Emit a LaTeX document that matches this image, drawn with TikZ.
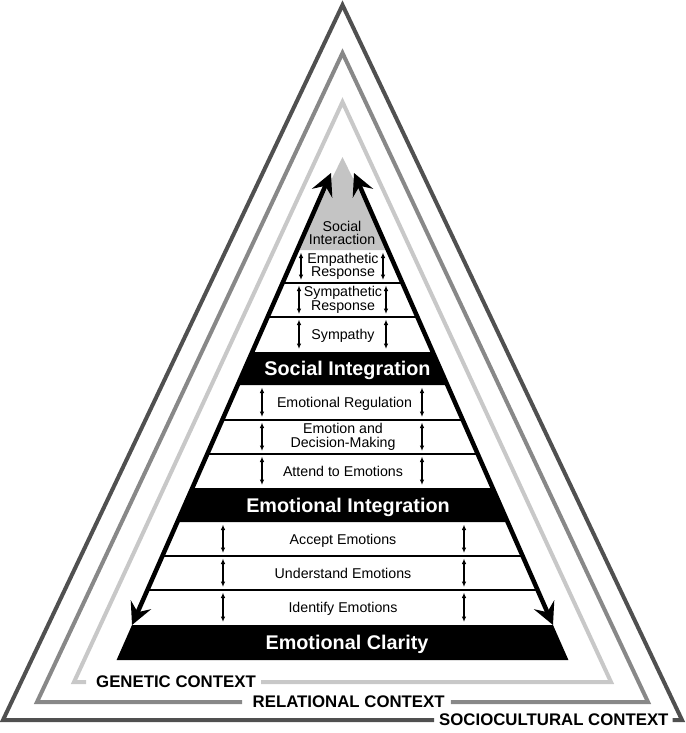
\documentclass[tikz,border=0pt]{standalone}
\usepackage{fontspec}
\setmainfont{Liberation Sans}
\usetikzlibrary{arrows.meta}
\definecolor{ctxdark}{HTML}{505050}
\definecolor{ctxmid}{HTML}{888888}
\definecolor{ctxlight}{HTML}{C8C8C8}
\definecolor{apexgray}{HTML}{C4C4C4}
\tikzset{
  ctxline/.style={line width=4pt, line join=miter},
  bandfill/.style={fill=black},
  bandtext/.style={text=white, font=\fontsize{19.8}{20}\selectfont\bfseries, inner sep=0pt, text height=14.2pt, text depth=0pt},
  rowtext/.style={font=\fontsize{14.2}{14}\selectfont, inner sep=0pt, text height=10.2pt, text depth=0pt},
  rowtwo/.style={font=\fontsize{14.2}{13.6}\selectfont, inner sep=0pt, align=center},
  ctxtext/.style={font=\fontsize{16.8}{17}\selectfont\bfseries, inner sep=0pt, anchor=west},
  sepline/.style={line width=1.6pt},
  bigarrow/.style={line width=4.5pt, {Stealth[length=22pt,width=22pt,inset=8pt]}-{Stealth[length=22pt,width=22pt,inset=8pt]}},
  smallarrow/.style={line width=1.1pt, {Latex[length=5.5pt,width=4.5pt]}-{Latex[length=5.5pt,width=4.5pt]}}
}
\begin{document}
\begin{tikzpicture}[x=1pt,y=-1pt]
\useasboundingbox (0,0) rectangle (685,733);
\fill[white] (0,0) rectangle (685,733);

% context triangles
\coordinate (sTop) at (342.5,5);
\coordinate (sBL) at (3,720);
\coordinate (sBR) at (682,720);
\coordinate (rTop) at (342.5,53);
\coordinate (rBL) at (37,702);
\coordinate (rBR) at (648,702);
\coordinate (gTop) at (342.5,102);
\coordinate (gBL) at (74,682);
\coordinate (gBR) at (611,682);

\node[ctxtext] (gen) at (96,682) {GENETIC CONTEXT};
\node[ctxtext] (rel) at (252.5,702) {RELATIONAL CONTEXT};
\node[ctxtext] (soc) at (439,720) {SOCIOCULTURAL CONTEXT};

\draw[ctxline, ctxlight] ([xshift=-10pt]gen.west) -- (gBL) -- (gTop) -- (gBR) -- ([xshift=5pt]gen.east);
\draw[ctxline, ctxmid] ([xshift=-10.5pt]rel.west) -- (rBL) -- (rTop) -- (rBR) -- ([xshift=6pt]rel.east);
\draw[ctxline, ctxdark] ([xshift=-5pt]soc.west) -- (sBL) -- (sTop) -- (sBR) -- ([xshift=4pt]soc.east);

% apex gray
\fill[apexgray] (342.5,157) -- (297.11,250) -- (387.89,250) -- cycle;

% black bands
\fill[bandfill] (116.59,660) -- (568.41,660) -- (553,625) -- (132,625) -- cycle;
\fill[bandfill] (177.35,522) -- (507.65,522) -- (492.68,488) -- (192.32,488) -- cycle;
\fill[bandfill] (237.67,385) -- (447.33,385) -- (432.80,352) -- (252.20,352) -- cycle;

% separators
\foreach \y [count=\i] in {283,317,420,454,556,590} {
  \coordinate (sep\i l) at ({132+0.4403*(625-\y)},\y);
  \coordinate (sep\i r) at ({553-0.4403*(625-\y)},\y);
  \draw[sepline] (sep\i l) -- (sep\i r);
}

% big arrows
\coordinate (tipTL) at (331,173);
\coordinate (tipBL) at (132,625);
\coordinate (tipTR) at (354,173);
\coordinate (tipBR) at (553,625);
\draw[bigarrow] (tipTL) -- (tipBL);
\draw[bigarrow] (tipTR) -- (tipBR);

% small double arrows
\foreach \t/\b/\xl/\xr [count=\i] in {250/283/301/383, 283/317/299/386, 317/352/299/386,
   385/420/262/422, 420/454/262/422, 454/488/262/422,
   522/556/223/464, 556/590/223/464, 590/625/223/464} {
  \coordinate (a\i lt) at (\xl,\t+2.5);
  \coordinate (a\i lb) at (\xl,\b-3);
  \coordinate (a\i rt) at (\xr,\t+2.5);
  \coordinate (a\i rb) at (\xr,\b-3);
  \draw[smallarrow] (a\i lt) -- (a\i lb);
  \draw[smallarrow] (a\i rt) -- (a\i rb);
}

% labels
\node[rowtwo] (si) at (342,233) {Social\\Interaction};
\node[rowtwo] (er) at (343,266.5) {Empathetic\\Response};
\node[rowtwo] (sr) at (343,300) {Sympathetic\\Response};
\node[rowtext] (sy) at (343,334.5) {Sympathy};
\node[bandtext] (sint) at (347.5,368.5) {Social Integration};
\node[rowtext] (ereg) at (344.5,402.5) {Emotional Regulation};
\node[rowtwo] (edm) at (343,437) {Emotion and\\Decision-Making};
\node[rowtext] (ate) at (343,471) {Attend to Emotions};
\node[bandtext] (eint) at (348,505) {Emotional Integration};
\node[rowtext] (acc) at (343,539) {Accept Emotions};
\node[rowtext] (und) at (343,573) {Understand Emotions};
\node[rowtext] (idf) at (343,607.5) {Identify Emotions};
\node[bandtext] (ecl) at (347,642.5) {Emotional Clarity};
\end{tikzpicture}
\end{document}
